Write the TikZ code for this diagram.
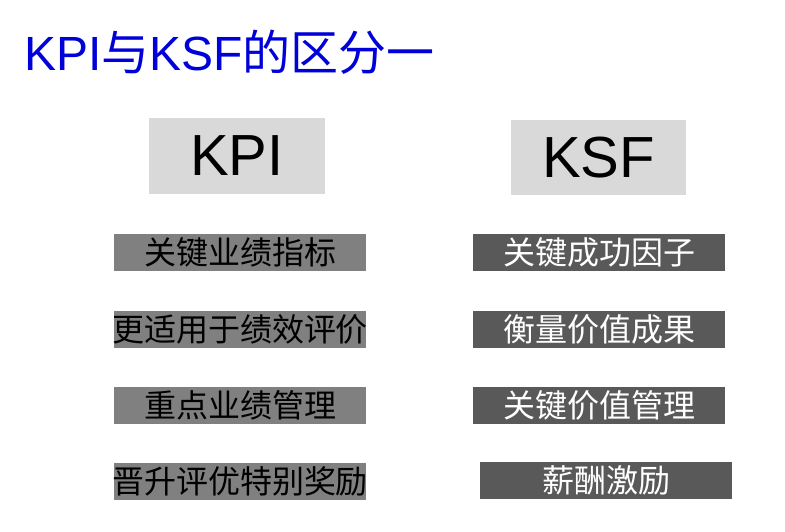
\documentclass[tikz,border=0pt]{standalone}
\usepackage{fontspec}
\setmainfont{Liberation Sans}
\newfontfamily\cjk{Noto Sans CJK SC}
\begin{document}
\begin{tikzpicture}[x=1pt,y=-1pt,
  hdr/.style={fill=black!15,draw=none,inner sep=0pt},
  lbar/.style={fill=black!50,draw=none,inner sep=0pt,minimum width=252pt,minimum height=37pt},
  rbar/.style={fill=black!65,draw=none,inner sep=0pt,minimum width=252pt,minimum height=37pt},
  ltxt/.style={font=\cjk\fontsize{32}{32}\selectfont,text=black,inner sep=0pt},
  rtxt/.style={font=\cjk\fontsize{32}{32}\selectfont,text=white,inner sep=0pt}]
\useasboundingbox (0,0) rectangle (785,532);
\node[anchor=west,text=blue!85!black,inner sep=0pt,font=\fontsize{48}{48}\selectfont] (title) at (24,52) {KPI{\cjk 与}KSF{\cjk 的区分一}};
\node[hdr,minimum width=176pt,minimum height=76pt,font=\fontsize{58}{58}\selectfont] (kpi) at (237,156) {KPI};
\node[hdr,minimum width=175pt,minimum height=75pt,font=\fontsize{58}{58}\selectfont] (ksf) at (598.5,157.5) {KSF};
\node[lbar] (l1) at (240,252.5) {};
\node[lbar] (l2) at (240,329.5) {};
\node[lbar] (l3) at (240,405.5) {};
\node[lbar] (l4) at (240,481.5) {};
\node[ltxt] at (l1) {关键业绩指标};
\node[ltxt] at (l2) {更适用于绩效评价};
\node[ltxt] at (l3) {重点业绩管理};
\node[ltxt] at (l4) {晋升评优特别奖励};
\node[rbar] (r1) at (599,252.5) {};
\node[rbar] (r2) at (599,329.5) {};
\node[rbar] (r3) at (599,405.5) {};
\node[rbar] (r4) at (606,480.5) {};
\node[rtxt] at (r1) {关键成功因子};
\node[rtxt] at (r2) {衡量价值成果};
\node[rtxt] at (r3) {关键价值管理};
\node[rtxt] at (r4) {薪酬激励};
\end{tikzpicture}
\end{document}
